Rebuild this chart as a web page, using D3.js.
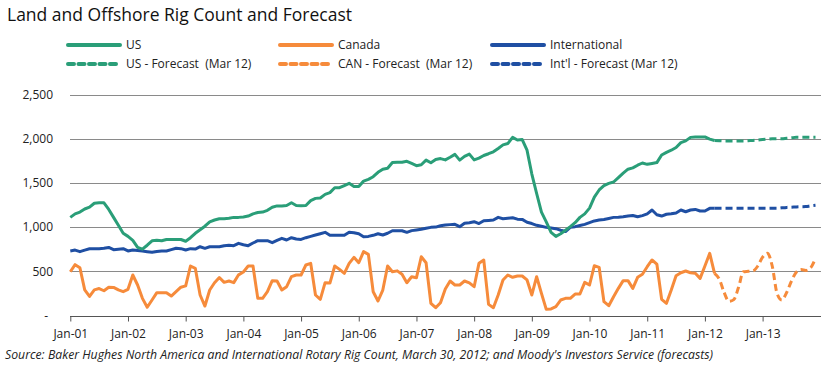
<!DOCTYPE html>
<html><head><meta charset="utf-8">
<script src="https://cdnjs.cloudflare.com/ajax/libs/d3/7.8.5/d3.min.js"></script>
<style>
body{margin:0;background:#fff;}
svg{display:block;font-family:"Open Sans","Noto Sans",sans-serif;}
</style></head>
<body><svg id="c" width="830" height="365"></svg>
<script>
// ---- data ----
const title = "Land and Offshore Rig Count and Forecast";
const source = "Source: Baker Hughes North America and International Rotary Rig Count, March 30, 2012; and Moody's Investors Service (forecasts)";
const tickLabels = ["Jan-01","Jan-02","Jan-03","Jan-04","Jan-05","Jan-06","Jan-07","Jan-08","Jan-09","Jan-10","Jan-11","Jan-12","Jan-13"];
const yTicks = [0,500,1000,1500,2000,2500];
// monthly values, Jan-01 .. Mar-12
const usActual = [
1110,1150,1170,1205,1225,1270,1275,1275,1200,1110,1020,930,
895,850,770,750,795,845,850,845,860,860,860,860,
840,880,930,970,1010,1060,1080,1095,1095,1100,1110,1110,
1115,1125,1150,1165,1170,1190,1225,1240,1240,1245,1275,1245,
1242,1245,1300,1325,1330,1370,1390,1446,1446,1470,1495,1460,
1460,1520,1540,1570,1620,1655,1665,1730,1733,1733,1744,1720,
1695,1705,1758,1728,1765,1775,1760,1790,1823,1758,1800,1826,
1760,1780,1810,1830,1852,1890,1930,1945,2015,1985,1990,1870,
1600,1380,1170,1060,940,895,925,965,1005,1050,1110,1150,
1215,1340,1420,1470,1495,1510,1560,1610,1655,1670,1700,1725,
1710,1720,1730,1815,1845,1870,1900,1955,1975,2015,2020,2020,
2020,1995,1980];
const canActual = [
495,575,540,290,215,290,305,280,320,318,290,270,
296,458,345,194,93,175,258,258,258,220,269,320,
335,560,534,232,107,288,370,430,375,390,372,460,
492,560,560,194,194,269,394,390,288,326,439,458,
458,571,590,232,183,371,367,560,522,477,590,658,
597,722,692,269,164,288,560,495,505,466,371,439,
428,665,597,138,88,145,300,390,345,345,390,370,
326,590,628,126,88,232,402,458,432,447,447,402,
232,439,251,70,74,100,175,194,194,243,243,375,
345,563,545,156,111,213,307,394,394,307,432,466,
552,628,582,183,138,288,450,484,503,484,477,420,
560,703,477];
const intlActual = [
730,740,722,740,755,756,756,760,770,745,750,756,
730,741,735,730,722,715,725,730,730,745,760,756,
741,756,752,778,760,778,778,778,790,795,790,816,
800,790,820,846,846,846,824,850,873,854,880,865,
861,880,895,910,925,941,907,907,907,907,941,937,
925,891,895,907,925,911,930,959,959,959,941,960,
967,975,986,997,1000,1016,1024,1028,1031,1005,1043,1050,
1061,1040,1072,1076,1080,1110,1095,1100,1106,1090,1087,1055,
1040,1020,1010,997,990,982,965,950,997,1005,1018,1031,
1050,1070,1080,1087,1098,1110,1112,1117,1125,1132,1117,1130,
1150,1193,1140,1125,1145,1150,1160,1193,1174,1193,1200,1182,
1182,1212,1212];
// forecasts, Mar-12 .. Dec-13
const usForecast = [1980,1978,1975,1975,1975,1975,1975,1978,1980,1985,1990,1995,2000,2000,2000,2005,2010,2015,2015,2015,2015,2015];
const canForecast = [477,410,260,160,180,320,495,500,505,560,660,705,560,250,175,260,390,490,520,510,540,647];
const intlForecast = [1212,1212,1212,1212,1212,1212,1212,1212,1212,1212,1212,1212,1212,1212,1218,1223,1225,1228,1230,1232,1240,1246];
const forecastStart = 134; // month index of Mar-12

const colors = {us:"#2a9e78", can:"#f68b3b", intl:"#1f4fa3"};

// ---- chart ----
const svg = d3.select("#c");
const x = d3.scaleLinear().domain([0,156]).range([70.3,820.3]);
const y = d3.scaleLinear().domain([0,2500]).range([315.5,94.5]);

svg.append("text").attr("x",7).attr("y",21).attr("font-size",18.5).attr("fill","#111")
  .attr("textLength",345).attr("lengthAdjust","spacingAndGlyphs")
  .text(title);

// gridlines
svg.append("g").selectAll("line").data(yTicks.filter(d=>d>0)).join("line")
  .attr("x1",70).attr("x2",821).attr("y1",d=>Math.round(y(d))+0.5).attr("y2",d=>Math.round(y(d))+0.5)
  .attr("stroke","#8a8a8a").attr("stroke-width",1);

// y labels
svg.append("g").selectAll("text").data(yTicks).join("text")
  .attr("x",d=>d===0?48:53).attr("y",d=>y(d)).attr("dy","0.35em").attr("text-anchor","end")
  .attr("font-size",12).attr("fill","#222")
  .text(d=>d===0?"-":d3.format(",")(d));

// x axis
const xAxis = d3.axisBottom(x).tickValues(tickLabels.map((d,i)=>i*12))
  .tickFormat((d,i)=>tickLabels[i]).tickSize(5).tickSizeOuter(0);
const gx = svg.append("g").attr("transform","translate(0,"+(Math.round(y(0))+0.5)+")").call(xAxis);
gx.select(".domain").attr("stroke","#555").attr("d","M70,0H821");
gx.selectAll(".tick line").attr("stroke","#555");
gx.selectAll(".tick text").attr("font-size",12).attr("fill","#222").attr("font-family","'Open Sans',sans-serif").attr("dy","1.1em");

// lines
const line = d3.line().x(d=>x(d[0])).y(d=>y(d[1]));
const curved = d3.line().x(d=>x(d[0])).y(d=>y(d[1])).curve(d3.curveMonotoneX);
function series(arr, start){ return arr.map((v,i)=>[start+i,v]); }
const plot = svg.append("g");
const defs = [
  {a:canActual, f:canForecast, c:colors.can},
  {a:intlActual, f:intlForecast, c:colors.intl},
  {a:usActual, f:usForecast, c:colors.us}
];
defs.forEach(s=>{
  plot.append("path").attr("d",line(series(s.a,0))).attr("fill","none")
    .attr("stroke",s.c).attr("stroke-width",3).attr("stroke-linejoin","round");
  plot.append("path").attr("d",curved(series(s.f,forecastStart))).attr("fill","none")
    .attr("stroke",s.c).attr("stroke-width",3).attr("stroke-dasharray","7,4");
});

// legend
const legend = [
  {x:68, y:45, c:colors.us, dash:false, t:"US"},
  {x:280, y:45, c:colors.can, dash:false, t:"Canada"},
  {x:492, y:45, c:colors.intl, dash:false, t:"International"},
  {x:68, y:64, c:colors.us, dash:true, t:"US - Forecast  (Mar 12)"},
  {x:280, y:64, c:colors.can, dash:true, t:"CAN - Forecast  (Mar 12)"},
  {x:492, y:64, c:colors.intl, dash:true, t:"Int'l - Forecast (Mar 12)"}
];
const lg = svg.append("g").selectAll("g").data(legend).join("g");
lg.append("line").attr("x1",d=>d.x).attr("x2",d=>d.x+52).attr("y1",d=>d.y).attr("y2",d=>d.y)
  .attr("stroke",d=>d.c).attr("stroke-width",4).attr("stroke-linecap","round")
  .attr("stroke-dasharray",d=>d.dash?"6,4.5":null);
lg.append("text").attr("x",d=>d.x+58).attr("y",d=>d.y).attr("dy","0.35em")
  .attr("font-size",12).attr("fill","#222").style("white-space","pre").text(d=>d.t);

// source
svg.append("text").attr("x",5).attr("y",359).attr("font-size",12).attr("font-style","italic")
  .attr("fill","#222").attr("textLength",708).attr("lengthAdjust","spacingAndGlyphs").text(source);
</script></body></html>
